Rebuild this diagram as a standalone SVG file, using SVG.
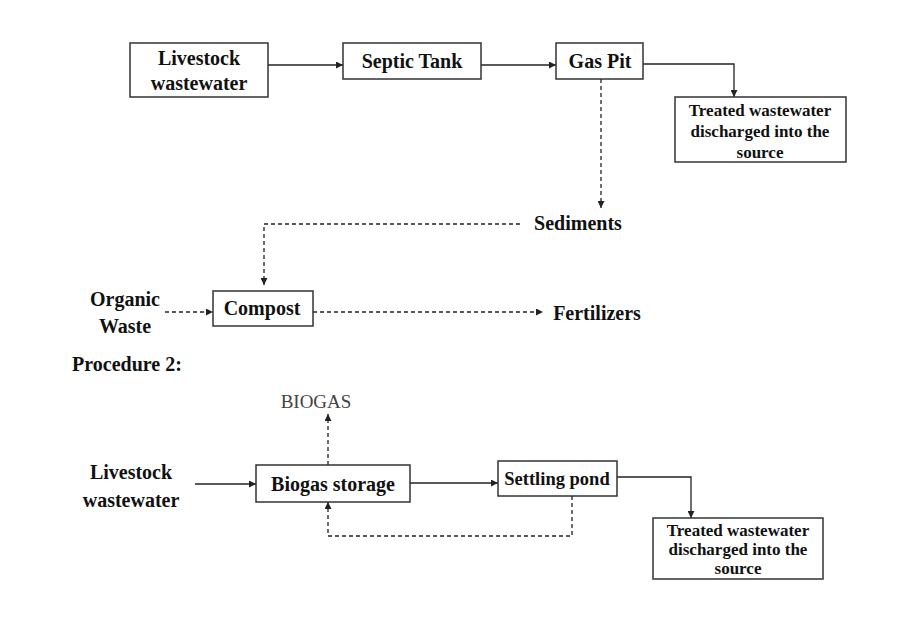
<svg xmlns="http://www.w3.org/2000/svg" width="900" height="636" viewBox="0 0 900 636">
<defs>
<marker id="ah" viewBox="0 0 10 10" refX="10" refY="5" markerWidth="7" markerHeight="7" markerUnits="userSpaceOnUse" orient="auto"><path d="M0,0 L10,5 L0,10 z" fill="#222"/></marker>
<style>
.box{fill:#fff;stroke:#333;stroke-width:1.5}
.t{font-family:"Liberation Serif","DejaVu Serif",serif;font-weight:bold;font-size:20px;fill:#111;text-anchor:middle}
.ts{font-size:17px}
.c{fill:none;stroke:#222;stroke-width:1.3}
.d{stroke-dasharray:4 3}
</style>
</defs>
<rect width="900" height="636" fill="#fff"/>
<g id="connectors">
<path class="c" d="M268,65 H343" marker-end="url(#ah)"/>
<path class="c" d="M481,65 H556" marker-end="url(#ah)"/>
<path class="c" d="M643,64 H734 V97" marker-end="url(#ah)"/>
<path class="c d" d="M601,79 V208" marker-end="url(#ah)"/>
<path class="c d" d="M520,224 H264 V285" marker-end="url(#ah)"/>
<path class="c d" d="M165,312 H213" marker-end="url(#ah)"/>
<path class="c d" d="M313,312 H543" marker-end="url(#ah)"/>
<path class="c" d="M195,484 H256" marker-end="url(#ah)"/>
<path class="c" d="M410,483 H498" marker-end="url(#ah)"/>
<path class="c" d="M617,477 H691 V518" marker-end="url(#ah)"/>
<path class="c d" d="M328,465 V414" marker-end="url(#ah)"/>
<path class="c d" d="M572,496 V536 H328 V502" marker-end="url(#ah)"/>
</g>
<g id="n1"><rect class="box" x="130" y="43" width="138" height="54"/><text class="t" x="199" y="65">Livestock</text><text class="t" x="199" y="90">wastewater</text></g>
<g id="n2"><rect class="box" x="343" y="43" width="138" height="36"/><text class="t" x="412" y="68">Septic Tank</text></g>
<g id="n3"><rect class="box" x="556" y="43" width="87" height="36"/><text class="t" x="600" y="68">Gas Pit</text></g>
<g id="n4"><rect class="box" x="675" y="97" width="171" height="65"/><text class="t ts" x="760" y="116">Treated wastewater</text><text class="t ts" x="760" y="137">discharged into the</text><text class="t ts" x="760" y="158">source</text></g>
<g id="n5"><text class="t" x="578" y="230">Sediments</text></g>
<g id="n6"><text class="t" x="125" y="306">Organic</text><text class="t" x="125" y="333">Waste</text></g>
<g id="n7"><rect class="box" x="213" y="291" width="100" height="35"/><text class="t" x="262" y="315">Compost</text></g>
<g id="n8"><text class="t" x="597" y="320">Fertilizers</text></g>
<g id="n9"><text class="t" x="127" y="371">Procedure 2:</text></g>
<g id="n10"><text x="316" y="408" style="font-family:'Liberation Serif','DejaVu Serif',serif;font-size:19px;fill:#444;text-anchor:middle">BIOGAS</text></g>
<g id="n11"><text class="t" x="131" y="479">Livestock</text><text class="t" x="131" y="507">wastewater</text></g>
<g id="n12"><rect class="box" x="256" y="465" width="154" height="37"/><text class="t" x="333" y="491">Biogas storage</text></g>
<g id="n13"><rect class="box" x="498" y="461" width="119" height="35"/><text class="t" x="557" y="485" style="font-size:18.5px">Settling pond</text></g>
<g id="n14"><rect class="box" x="653" y="518" width="170" height="61"/><text class="t ts" x="738" y="536">Treated wastewater</text><text class="t ts" x="738" y="555">discharged into the</text><text class="t ts" x="738" y="574">source</text></g>
</svg>
